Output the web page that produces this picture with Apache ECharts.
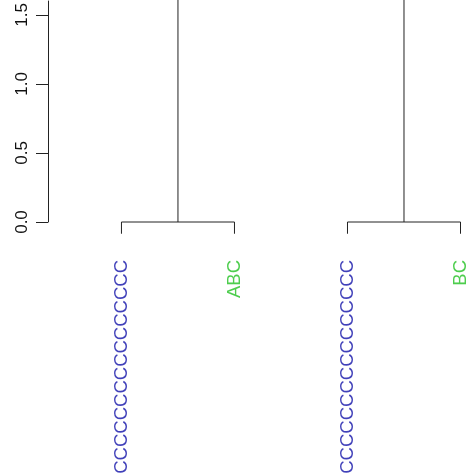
<!DOCTYPE html><html><head><meta charset="utf-8">
<script src="https://cdn.jsdelivr.net/npm/echarts@6/dist/echarts.min.js"></script>
<style>html,body{margin:0;background:#fff}#c{width:474px;height:474px}</style></head><body><div id="c"></div>
<script>
const leafLabels = ['CCCCCCCCCCCCCCCCCCCC','ABC','CCCCCCCCCCCCCCCCCCCC','BC'];
const leafColors = ['#1010a8','#20c020','#1010a8','#20c020'];
const leafX = [1,2,3,4];
const mergeHeights = [2.2, 2.2];
const yTicks = [0, 0.5, 1, 1.5];
const leafDrop = -0.085, labelY = -0.275;
const segs = [];
for (let i=0;i<2;i++){
  const a=leafX[2*i], b=leafX[2*i+1], h=mergeHeights[i];
  segs.push([[a,leafDrop],[a,0],[b,0],[b,leafDrop]]);
  segs.push([[(a+b)/2,0],[(a+b)/2,h]]);
}
const series = segs.map(s=>({type:'line',data:s,symbol:'none',clip:false,silent:true,
  lineStyle:{color:'#222',width:1},animation:false}));
series.push({type:'scatter',symbolSize:0,clip:false,animation:false,
  data:leafX.map((x,i)=>({value:[x,labelY],label:{show:true,formatter:leafLabels[i],rotate:90,
    align:'right',verticalAlign:'middle',color:leafColors[i],fontSize:18.5,fontFamily:'Liberation Sans, Arial'}}))});
echarts.init(document.getElementById('c')).setOption({
  animation:false,
  grid:{left:48,right:13.5,top:-5,bottom:252},
  xAxis:{type:'value',min:0.35,max:4,show:false},
  yAxis:{type:'value',min:0,max:1.6,interval:0.5,splitLine:{show:false},
    axisLine:{show:true,lineStyle:{color:'#222'}},
    axisTick:{show:true,length:12,lineStyle:{color:'#222'},customValues:yTicks},
    axisLabel:{rotate:90,fontSize:17,color:'#111',margin:17,fontFamily:'Liberation Sans, Arial',
      customValues:yTicks,formatter:v=>v.toFixed(1)}},
  series
});
</script></body></html>
